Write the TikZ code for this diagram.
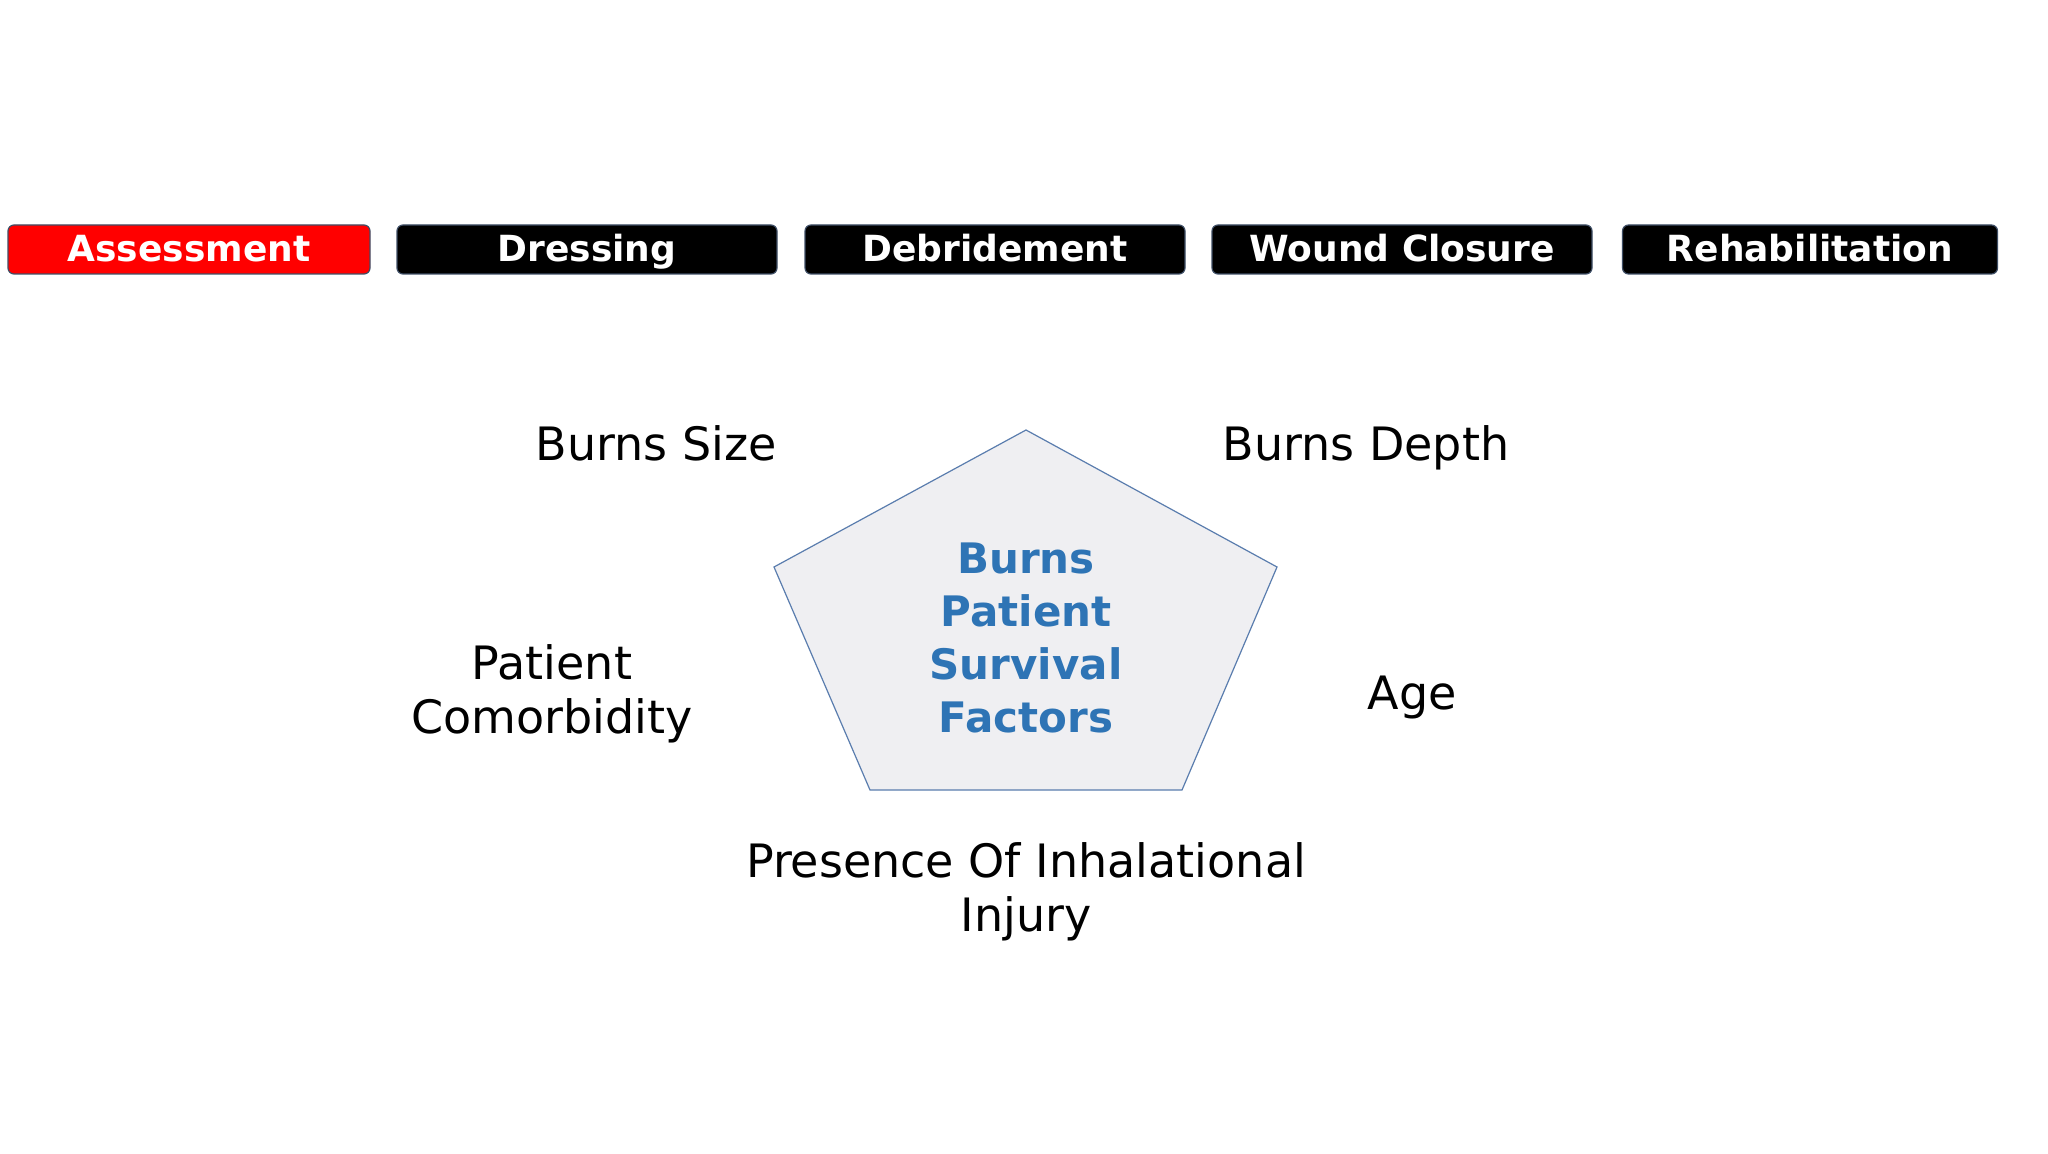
\documentclass[tikz,border=0pt]{standalone}
\usepackage{fontspec}
\setmainfont{DejaVu Sans}
\usepackage{xcolor}
\definecolor{TabRed}{HTML}{FF0000}
\definecolor{TabEdge}{HTML}{3F4F66}
\definecolor{CoreBlue}{HTML}{2E74B5}
\definecolor{PentFill}{HTML}{EFEFF2}
\definecolor{PentEdge}{HTML}{5A7DAE}

\begin{document}
\begin{tikzpicture}[x=0.5pt,y=-0.5pt,
  every node/.style={text=black,font=\fontsize{23}{27}\selectfont,align=center},
  tab/.style={draw=TabEdge,line width=0.6pt,rounded corners=3pt,fill=black,text=white,
    font=\fontsize{18}{22}\selectfont\bfseries,minimum height=24.5pt,inner sep=0pt,
    text height=15pt,text depth=3pt},
  factor/.style={text height=17.25pt,text depth=5.75pt}]
\useasboundingbox[fill=white] (0,0) rectangle (2048,1154);
% stage tabs
\node[tab,fill=TabRed,minimum width=181pt] (assess) at (189,249.5) {Assessment};
\node[tab,minimum width=190pt] (dress) at (587,249.5) {Dressing};
\node[tab,minimum width=190pt] (debride) at (995,249.5) {Debridement};
\node[tab,minimum width=190pt] (closure) at (1402,249.5) {Wound Closure};
\node[tab,minimum width=187.5pt] (rehab) at (1810,249.5) {Rehabilitation};
% pentagon
\coordinate (P1) at (1026,430);\coordinate (P2) at (1277,567);\coordinate (P3) at (1182,790);
\coordinate (P4) at (870,790);\coordinate (P5) at (774,567);
\draw[PentEdge,fill=PentFill,line width=0.6pt] (P1)--(P2)--(P3)--(P4)--(P5)--cycle;
\node[text=CoreBlue,font=\fontsize{21}{26.5}\selectfont\bfseries] (core) at (1026,638) {Burns\\Patient\\Survival\\Factors};
% factors
\node[factor] (size) at (656,449) {Burns Size};
\node[factor] (depth) at (1366,449) {Burns Depth};
\node (comorb) at (552,694) {Patient\\Comorbidity};
\node[factor] (age) at (1412,698) {Age};
\node (inhal) at (1026,892) {Presence Of Inhalational\\Injury};
\end{tikzpicture}
\end{document}
